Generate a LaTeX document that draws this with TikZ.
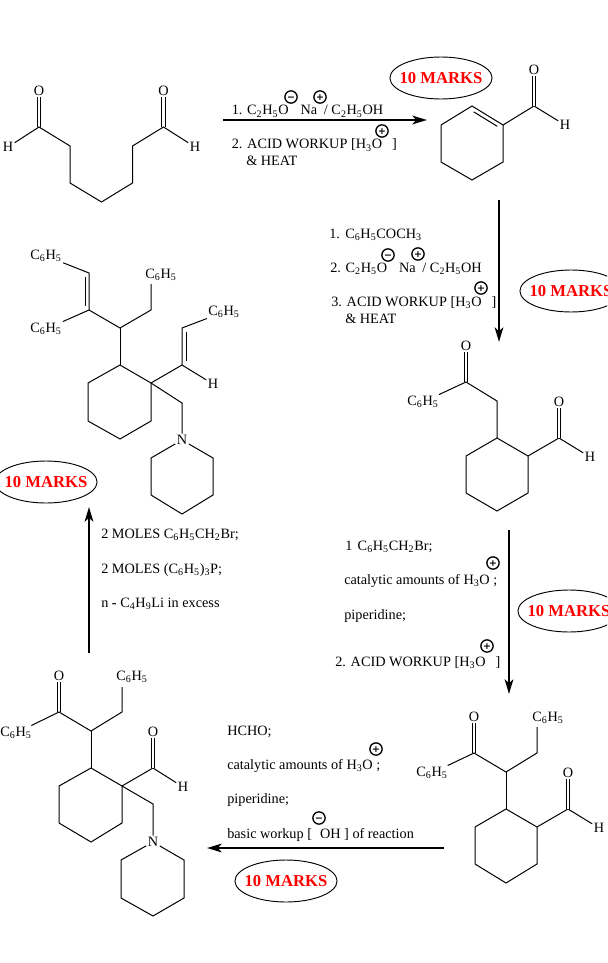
\documentclass[tikz,border=0pt]{standalone}
\usepackage{fontspec}
\setmainfont{Liberation Serif}
\newfontfamily\signfont{DejaVu Sans}
\usepackage{tikz}
\usetikzlibrary{shapes.geometric, arrows.meta, calc}
\tikzstyle{atom} = [inner sep=1pt, font=\fontsize{10.7}{12}\selectfont]
\tikzstyle{reagent} = [anchor=base west, inner sep=0pt, font=\fontsize{10.7}{12}\selectfont]
\tikzstyle{charge} = [draw, circle, inner sep=0pt, minimum size=9.2pt, line width=1pt, font=\signfont\bfseries\fontsize{7}{7}\selectfont]
\tikzstyle{marks} = [draw, ellipse, inner xsep=-4pt, inner ysep=0pt, minimum width=75pt, minimum height=31.5pt, line width=.7pt, text=red, font=\bfseries\fontsize{12.5}{14}\selectfont]
\tikzstyle{bond} = [line width=.75pt]
\tikzstyle{dbl} = [line width=.6pt, double, double distance=2pt]
\tikzstyle{reaction} = [->, line width=1.7pt]
\newcommand{\ph}{C\textsubscript{6}H\textsubscript{5}}
\newcommand{\et}{C\textsubscript{2}H\textsubscript{5}}
\newcommand{\chg}[1]{\raisebox{-.36em}[0pt][0pt]{#1}}
\newcommand{\minussign}{\chg{\char"2212}}
\newcommand{\plussign}{\chg{+}}

\begin{document}
\begin{tikzpicture}[x=.75pt,y=-.75pt,>={Stealth[length=11pt,width=6.5pt,inset=3pt]}]
  \useasboundingbox (0,0) rectangle (607,963);
  \clip (0,0) rectangle (607,963);

  % heptanedial
  \node[atom] (aO1) at (39,91) {O};
  \node[atom] (aH1) at (8,147) {H};
  \coordinate (a1) at (39,127);
  \coordinate (a2) at (70,146);
  \coordinate (a3) at (70,183);
  \coordinate (a4) at (101.5,202);
  \coordinate (a5) at (132.5,183);
  \coordinate (a6) at (132.5,146);
  \coordinate (a7) at (163.5,127);
  \node[atom] (aO2) at (163.5,91) {O};
  \node[atom] (aH2) at (195,147) {H};
  \draw[dbl] (a1) -- (aO1);
  \draw[dbl] (a7) -- (aO2);
  \draw[bond] (aH1) -- (a1) -- (a2) -- (a3) -- (a4) -- (a5) -- (a6) -- (a7) -- (aH2);

  % first step
  \coordinate (r1s) at (223,120);
  \coordinate (r1e) at (427,120);
  \draw[reaction] (r1s) -- (r1e);
  \node[reagent] (r1a) at (231.5,115) {1. \et O\hspace{9pt}Na\hspace{5pt}/ \et OH};
  \node[charge] (r1m) at (291,97) {\minussign};
  \node[charge] (r1p) at (320,97) {\plussign};
  \node[reagent] (r1b) at (231.5,149) {2. ACID WORKUP [H\textsubscript{3}O\hspace{7.5pt}]};
  \node[charge] (r1q) at (382,131) {\plussign};
  \node[reagent] (r1c) at (246,166) {\& HEAT};
  \node[marks] (m1) at (441,78) {10 MARKS};

  % cyclohexenecarbaldehyde
  \coordinate (b1) at (472,106);
  \coordinate (b2) at (503,125);
  \coordinate (b3) at (503,162);
  \coordinate (b4) at (472,180);
  \coordinate (b5) at (441,162);
  \coordinate (b6) at (441,125);
  \coordinate (b7) at (534,106);
  \node[atom] (bO) at (534,70) {O};
  \node[atom] (bH) at (565,125) {H};
  \draw[bond] (b1) -- (b2) -- (b3) -- (b4) -- (b5) -- (b6) -- cycle;
  \draw[bond] ($(b1)!.12!(b2)+(-2,3.6)$) -- ($(b1)!.88!(b2)+(-2,3.6)$);
  \draw[bond] (b2) -- (b7) -- (bH);
  \draw[dbl] (b7) -- (bO);

  % second step
  \coordinate (r2s) at (499,200);
  \coordinate (r2e) at (499,342);
  \draw[reaction] (r2s) -- (r2e);
  \node[reagent] (r2a) at (329,238) {1.\hspace{4pt}\ph COCH\textsubscript{3}};
  \node[reagent] (r2b) at (330,272) {2. \et O\hspace{9pt}Na\hspace{5pt}/ \et OH};
  \node[charge] (r2m) at (388,255) {\minussign};
  \node[charge] (r2p) at (418,254) {\plussign};
  \node[reagent] (r2c) at (331,306) {3. ACID WORKUP [H\textsubscript{3}O\hspace{7.5pt}]};
  \node[charge] (r2q) at (481,288) {\plussign};
  \node[reagent] (r2d) at (345,323) {\& HEAT};
  \node[marks] (m2) at (571,291) {10 MARKS};

  % diketone
  \node[atom] (cO1) at (466,346) {O};
  \coordinate (c1) at (466,382);
  \node[atom] (cPh) at (423,402) {\ph};
  \coordinate (c2) at (497,401);
  \coordinate (c3) at (497,438);
  \coordinate (c4) at (528,456);
  \coordinate (c5) at (528,493);
  \coordinate (c6) at (497,511);
  \coordinate (c7) at (466,493);
  \coordinate (c8) at (466,456);
  \coordinate (c9) at (559,438);
  \node[atom] (cO2) at (559,402) {O};
  \node[atom] (cH) at (590,457) {H};
  \draw[dbl] (c1) -- (cO1);
  \draw[bond] (cPh) -- (c1) -- (c2) -- (c3);
  \draw[bond] (c3) -- (c4) -- (c5) -- (c6) -- (c7) -- (c8) -- cycle;
  \draw[bond] (c4) -- (c9) -- (cH);
  \draw[dbl] (c9) -- (cO2);

  % third step
  \coordinate (r3s) at (509,530);
  \coordinate (r3e) at (509,694);
  \draw[reaction] (r3s) -- (r3e);
  \node[reagent] (r3a) at (345,550) {1\hspace{4pt}\ph CH\textsubscript{2}Br;};
  \node[reagent] (r3b) at (344,584) {catalytic amounts of H\textsubscript{3}O ;};
  \node[charge] (r3p) at (493,563) {\plussign};
  \node[reagent] (r3c) at (344,619) {piperidine;};
  \node[reagent] (r3d) at (335,666) {2. ACID WORKUP [H\textsubscript{3}O\hspace{7.5pt}]};
  \node[charge] (r3q) at (487,646) {\plussign};
  \node[marks] (m3) at (569,611) {10 MARKS};

  % benzylated product
  \node[atom] (dO1) at (474,717) {O};
  \coordinate (d1) at (474,753);
  \node[atom] (dPh1) at (432,773) {\ph};
  \coordinate (d2) at (506,772);
  \coordinate (d3) at (537,753);
  \coordinate (d3a) at (537,727);
  \node[atom] (dPh2) at (548,718) {\ph};
  \coordinate (d4) at (506,809);
  \coordinate (d5) at (537,827);
  \coordinate (d6) at (537,864);
  \coordinate (d7) at (506,883);
  \coordinate (d8) at (475,864);
  \coordinate (d9) at (475,827);
  \coordinate (d10) at (568,809);
  \node[atom] (dO2) at (568,773) {O};
  \node[atom] (dH) at (599,828) {H};
  \draw[dbl] (d1) -- (dO1);
  \draw[bond] (dPh1) -- (d1) -- (d2) -- (d3) -- (d3a);
  \draw[bond] (d2) -- (d4);
  \draw[bond] (d4) -- (d5) -- (d6) -- (d7) -- (d8) -- (d9) -- cycle;
  \draw[bond] (d5) -- (d10) -- (dH);
  \draw[dbl] (d10) -- (dO2);

  % fourth step
  \coordinate (r4s) at (444,848);
  \coordinate (r4e) at (207,848);
  \draw[reaction] (r4s) -- (r4e);
  \node[reagent] (r4a) at (227,735) {HCHO;};
  \node[reagent] (r4b) at (227,769) {catalytic amounts of H\textsubscript{3}O ;};
  \node[charge] (r4p) at (376,749) {\plussign};
  \node[reagent] (r4c) at (227,803) {piperidine;};
  \node[reagent] (r4d) at (227,838) {basic workup [\hspace{6pt}OH ] of reaction};
  \node[charge] (r4m) at (319,818) {\minussign};
  \node[marks] (m4) at (286,881) {10 MARKS};

  % Mannich product
  \node[atom] (eO1) at (59,676) {O};
  \coordinate (e1) at (59,712);
  \node[atom] (ePh1) at (16,733) {\ph};
  \coordinate (e2) at (91,731);
  \coordinate (e3) at (122,712);
  \coordinate (e3a) at (122,687);
  \node[atom] (ePh2) at (132,677) {\ph};
  \coordinate (e4) at (91,768);
  \coordinate (e5) at (122,786);
  \coordinate (e6) at (122,823);
  \coordinate (e7) at (91,842);
  \coordinate (e8) at (59,823);
  \coordinate (e9) at (59,786);
  \coordinate (e10) at (153,768);
  \node[atom] (eO2) at (153,732) {O};
  \node[atom] (eH) at (183,787) {H};
  \coordinate (e11) at (153,804);
  \node[atom] (eN) at (153,842) {N};
  \coordinate (e12) at (184,860);
  \coordinate (e13) at (184,898);
  \coordinate (e14) at (153,916);
  \coordinate (e15) at (121,898);
  \coordinate (e16) at (121,860);
  \draw[dbl] (e1) -- (eO1);
  \draw[bond] (ePh1) -- (e1) -- (e2) -- (e3) -- (e3a);
  \draw[bond] (e2) -- (e4);
  \draw[bond] (e4) -- (e5) -- (e6) -- (e7) -- (e8) -- (e9) -- cycle;
  \draw[bond] (e5) -- (e10) -- (eH);
  \draw[dbl] (e10) -- (eO2);
  \draw[bond] (e5) -- (e11) -- (eN);
  \draw[bond] (eN) -- (e12) -- (e13) -- (e14) -- (e15) -- (e16) -- (eN);

  % fifth step
  \coordinate (r5s) at (89,653);
  \coordinate (r5e) at (89,507);
  \draw[reaction] (r5s) -- (r5e);
  \node[reagent] (r5a) at (101,538) {2 MOLES \ph CH\textsubscript{2}Br;};
  \node[reagent] (r5b) at (101,573) {2 MOLES (\ph)\textsubscript{3}P;};
  \node[reagent] (r5c) at (101,607) {n \textbf{-} C\textsubscript{4}H\textsubscript{9}Li in excess};
  \node[marks] (m5) at (46,482) {10 MARKS};

  % final diene
  \node[atom] (fPh1) at (46,256) {\ph};
  \coordinate (f1) at (89,273);
  \coordinate (f2) at (89,310);
  \node[atom] (fPh2) at (46,329) {\ph};
  \coordinate (f3) at (120,328);
  \coordinate (f4) at (151,310);
  \coordinate (f4a) at (151,284);
  \node[atom] (fPh3) at (161,275) {\ph};
  \coordinate (f5) at (120,365);
  \coordinate (f6) at (151,383);
  \coordinate (f7) at (151,421);
  \coordinate (f8) at (120,439);
  \coordinate (f9) at (88,421);
  \coordinate (f10) at (88,383);
  \coordinate (f11) at (182,365);
  \coordinate (f12) at (182,328);
  \node[atom] (fPh4) at (224,312) {\ph};
  \node[atom] (fH) at (213,384) {H};
  \coordinate (f13) at (182,403);
  \node[atom] (fN) at (182,440) {N};
  \coordinate (f14) at (213,458);
  \coordinate (f15) at (213,495);
  \coordinate (f16) at (182,514);
  \coordinate (f17) at (151,495);
  \coordinate (f18) at (151,458);
  \draw[bond] (fPh1) -- (f1) -- (f2) -- (fPh2);
  \draw[bond] ($(f1)!.1!(f2)+(-4,0)$) -- ($(f1)!.9!(f2)+(-4,0)$);
  \draw[bond] (f2) -- (f3) -- (f4) -- (f4a);
  \draw[bond] (f3) -- (f5);
  \draw[bond] (f5) -- (f6) -- (f7) -- (f8) -- (f9) -- (f10) -- cycle;
  \draw[bond] (f6) -- (f11) -- (f12) -- (fPh4);
  \draw[bond] ($(f11)!.1!(f12)+(4,0)$) -- ($(f11)!.9!(f12)+(4,0)$);
  \draw[bond] (f11) -- (fH);
  \draw[bond] (f6) -- (f13) -- (fN);
  \draw[bond] (fN) -- (f14) -- (f15) -- (f16) -- (f17) -- (f18) -- (fN);
\end{tikzpicture}
\end{document}
